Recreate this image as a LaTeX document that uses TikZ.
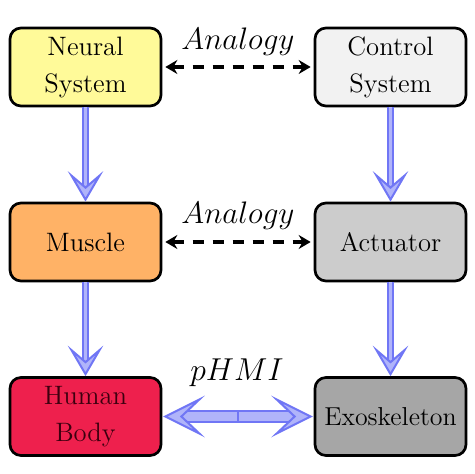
\documentclass[tikz,border=0pt]{standalone}
\usetikzlibrary{arrows.meta,calc}
\definecolor{crim}{RGB}{238,32,77}
\definecolor{crimtext}{RGB}{60,0,15}
\definecolor{bborder}{RGB}{112,118,245}
\definecolor{binner}{RGB}{176,180,250}
\newcommand{\bt}[1]{\scalebox{1.11}{#1}}
\begin{document}
\begin{tikzpicture}[x=0.5pt,y=-0.5pt,
  box/.style={draw=black,line width=1.35pt,rounded corners=5.5pt,minimum width=75.5pt,
    minimum height=39pt,inner sep=0pt,align=center,font=\fontsize{12}{18.5}\selectfont},
  shaft/.style={draw=bborder,line width=1pt,double=binner,double distance=1.75pt},
  shaftw/.style={draw=bborder,line width=1pt,double=binner,double distance=4.5pt},
  head/.style={draw=bborder,fill=binner,line width=1pt,line join=miter},
  tipa/.tip={Stealth[length=6pt,width=7pt,inset=2pt]},
  analog/.style={black,dash pattern=on 5.5pt off 4.5pt,line width=1.8pt,tipa-tipa},
  lbl/.style={font=\fontsize{14.4}{18}\selectfont}]
\useasboundingbox (0,0) rectangle (474,474);
% boxes
\node[box,fill=yellow!40] (ns) at (85.5,67) {\bt{Neural}\\\bt{System}};
\node[box,fill=gray!10] (cs) at (390.5,67) {\bt{Control}\\\bt{System}};
\node[box,fill=orange!60] (mu) at (85.5,242) {\bt{Muscle}};
\node[box,fill=gray!40] (ac) at (390.5,242) {\bt{Actuator}};
\node[box,fill=crim,text=crimtext] (hb) at (85.5,416.5) {\bt{Human}\\\bt{Body}};
\node[box,fill=gray!70] (ex) at (390.5,416.5) {\scalebox{1.08}{Exoskeleton}};
% labels
\node[lbl] (l1) at (238,42) {\scalebox{1.08}{$Analogy$}};
\node[lbl] (l2) at (238,216) {\scalebox{1.08}{$Analogy$}};
\node[lbl] (l3) at (237,373) {\scalebox{1.1}{$pHMI$}};
% analogy arrows
\draw[analog] ([xshift=1.5pt]ns.east) -- ([xshift=-1.5pt]cs.west);
\draw[analog] ([xshift=1.5pt]mu.east) -- ([xshift=-1.5pt]ac.west);
% vertical arrows
\foreach \a/\b in {ns/mu,mu/hb,cs/ac,ac/ex}{
  \draw[shaft] (\a.south) -- ([yshift=6.5pt]\b.north);
  \draw[head] ([yshift=1pt]\b.north) -- ++(-7pt,12pt) -- ++(7pt,-6pt) -- ++(7pt,6pt) -- cycle;
}
% pHMI double arrow
\coordinate (mid) at ($(hb.east)!0.5!(ex.west)$);
\draw[shaftw] (mid) -- ([xshift=9pt]hb.east);
\draw[shaftw] (mid) -- ([xshift=-9pt]ex.west);
\draw[bborder,line width=0.8pt] ($(mid)+(0,2.5pt)$) -- ($(mid)-(0,2.5pt)$);
\draw[head] ([xshift=1.5pt]hb.east) -- ++(17pt,8.5pt) -- ++(-9pt,-8.5pt) -- ++(9pt,-8.5pt) -- cycle;
\draw[head] ([xshift=-1.5pt]ex.west) -- ++(-17pt,8.5pt) -- ++(9pt,-8.5pt) -- ++(-9pt,-8.5pt) -- cycle;
\end{tikzpicture}
\end{document}
